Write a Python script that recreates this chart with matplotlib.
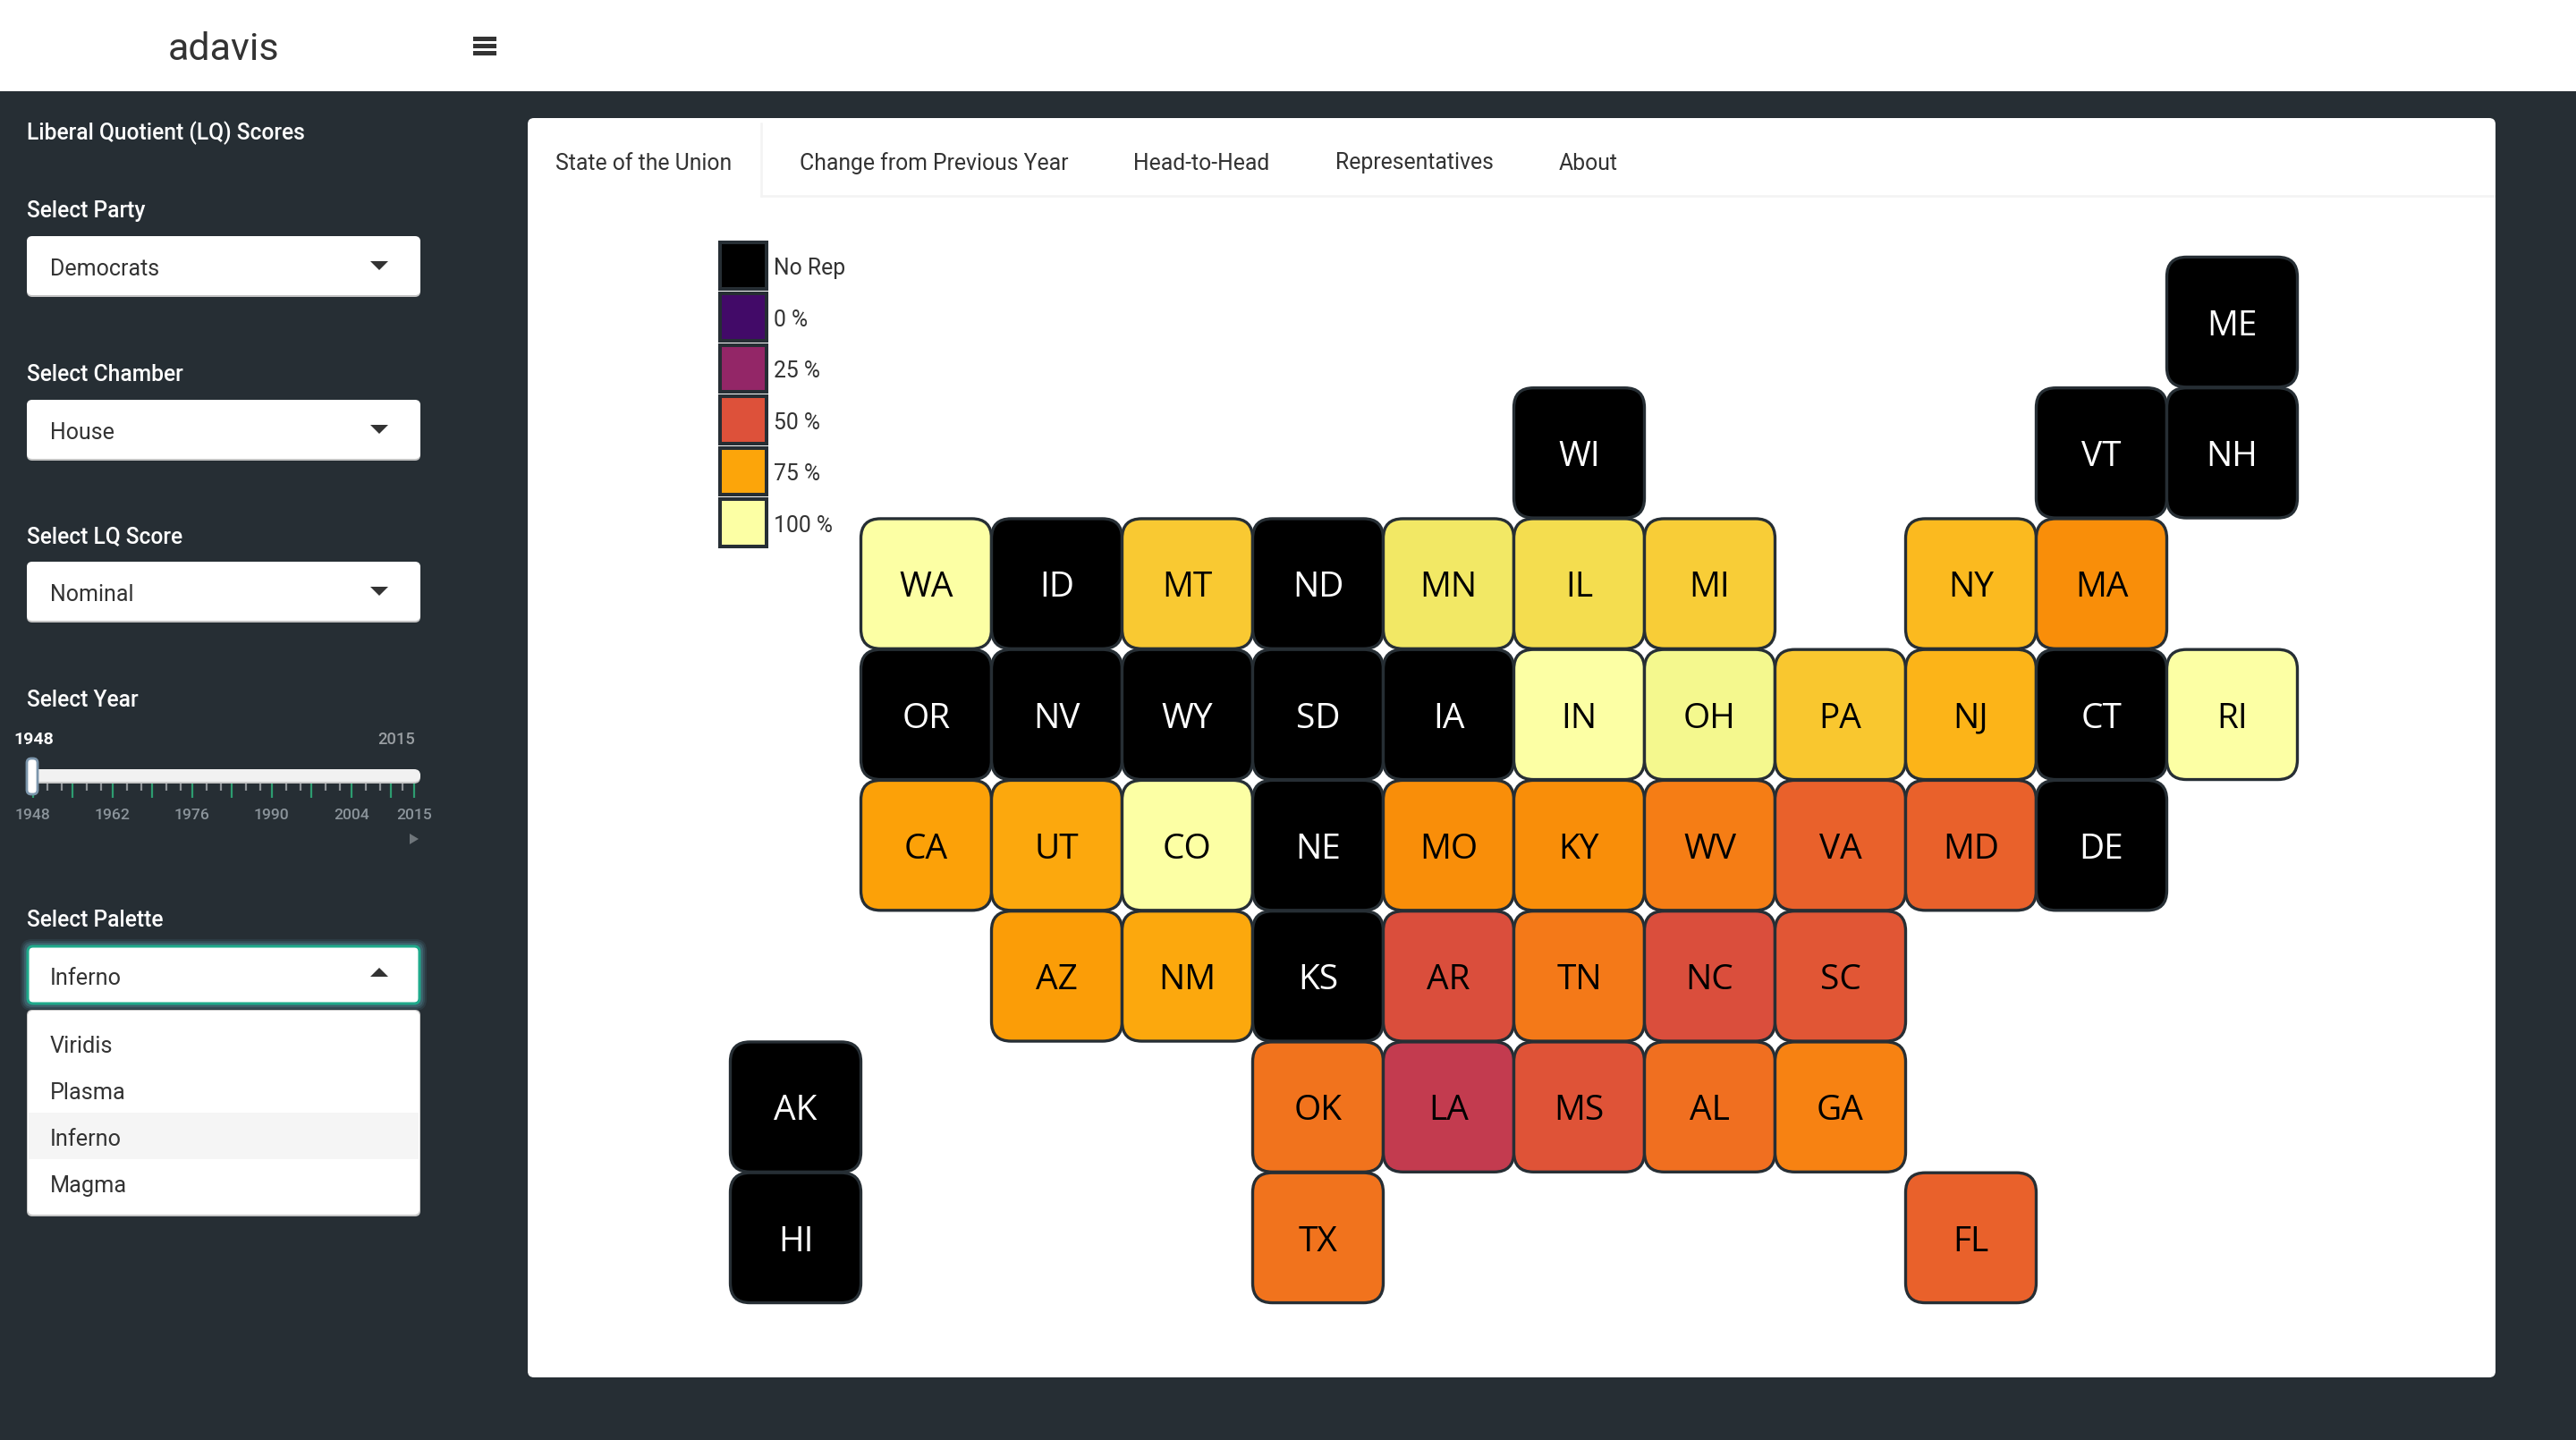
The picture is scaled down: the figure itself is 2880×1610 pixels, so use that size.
import numpy as np
import matplotlib
matplotlib.use('Agg')
import matplotlib.pyplot as plt
from matplotlib.patches import FancyBboxPatch, Rectangle, Polygon

# State grid map values (LQ score in percent, nan = no rep)
states = ['ME', 'WI', 'VT', 'NH',
          'WA', 'ID', 'MT', 'ND', 'MN', 'IL', 'MI', 'NY', 'MA',
          'OR', 'NV', 'WY', 'SD', 'IA', 'IN', 'OH', 'PA', 'NJ', 'CT', 'RI',
          'CA', 'UT', 'CO', 'NE', 'MO', 'KY', 'WV', 'VA', 'MD', 'DE',
          'AZ', 'NM', 'KS', 'AR', 'TN', 'NC', 'SC',
          'AK', 'OK', 'LA', 'MS', 'AL', 'GA',
          'HI', 'TX', 'FL']
state_cols = [11, 6, 10, 11,
              1, 2, 3, 4, 5, 6, 7, 9, 10,
              1, 2, 3, 4, 5, 6, 7, 8, 9, 10, 11,
              1, 2, 3, 4, 5, 6, 7, 8, 9, 10,
              2, 3, 4, 5, 6, 7, 8,
              0, 4, 5, 6, 7, 8,
              0, 4, 9]
state_rows = [0, 1, 1, 1,
              2, 2, 2, 2, 2, 2, 2, 2, 2,
              3, 3, 3, 3, 3, 3, 3, 3, 3, 3, 3,
              4, 4, 4, 4, 4, 4, 4, 4, 4, 4,
              5, 5, 5, 5, 5, 5, 5,
              6, 6, 6, 6, 6, 6,
              7, 7, 7]
nan = float('nan')
scores = [nan, nan, nan, nan,
          100, nan, 84, nan, 92, 89, 85, 80, 69,
          nan, nan, nan, nan, nan, 100, 97, 83.5, 79, nan, 100,
          74, 76, 100, nan, 69, 69, 64, 56, 56, nan,
          73, 76, nan, 49, 63, 49, 52,
          nan, 61, 40, 51, 60, 65.5,
          nan, 61, 56]

legend_labels = ['No Rep', '0 %', '25 %', '50 %', '75 %', '100 %']
legend_colors = ['#000000', '#420A68', '#932667', '#DD513A', '#FCA50A', '#FCFFA4']

tab_labels = ['State of the Union', 'Change from Previous Year', 'Head-to-Head', 'Representatives', 'About']
tab_left = [621, 894, 1267, 1493, 1743]

major_years = [1948, 1955, 1962, 1969, 1976, 1983, 1990, 1997, 2004, 2011, 2015]
minor_years = [1950.5, 1953, 1957.5, 1960, 1964.5, 1967, 1971.5, 1974, 1978.5, 1981,
               1985.5, 1988, 1992.5, 1995, 1999.5, 2002, 2006.5, 2009, 2013]
year_labels = [1948, 1962, 1976, 1990, 2004, 2015]

palette_options = ['Viridis', 'Plasma', 'Inferno', 'Magma']

DARK = '#262e34'
TEXT = '#333333'
SANS = 'Roboto'

fig = plt.figure(figsize=(28.8, 16.1), dpi=100, facecolor=DARK)

# page axes in pixels
ax = fig.add_axes([0, 0, 1, 1])
ax.set_xlim(0, 2880)
ax.set_ylim(1610, 0)
ax.axis('off')


def box(x0, y0, x1, y1, face='white', edge='none', lw=0, r=6, alpha=1, z=2):
    p = FancyBboxPatch((x0, y0), x1 - x0, y1 - y0, boxstyle=f'round,pad=0,rounding_size={r}',
                       facecolor=face, edgecolor=edge, linewidth=lw, alpha=alpha, zorder=z)
    ax.add_patch(p)


def label(x, y, s, size=18, color=TEXT, weight='normal', ha='left', z=5):
    ax.text(x, y, s, fontsize=size, color=color, fontweight=weight, family=SANS,
            ha=ha, va='center_baseline', zorder=z)


def caret(x, y, up=False):
    if up:
        pts = [(x - 10, y + 5), (x + 10, y + 5), (x, y - 5)]
    else:
        pts = [(x - 10, y - 5), (x + 10, y - 5), (x, y + 5)]
    ax.add_patch(Polygon(pts, closed=True, facecolor=TEXT, edgecolor='none', zorder=5))


# header
ax.add_patch(Rectangle((0, 0), 2880, 102, facecolor='white', edgecolor='none', zorder=1))
label(250, 51, 'adavis', size=31, ha='center')
for y in [44, 52, 60]:
    ax.add_patch(Rectangle((529, y - 2.5), 26, 5, facecolor=TEXT, edgecolor='none', zorder=3))

# sidebar
label(30, 146, 'Liberal Quotient (LQ) Scores', size=17.7, color='white', weight='medium')
selects = [('Select Party', 'Democrats', 234, 264), ('Select Chamber', 'House', 416, 447),
           ('Select LQ Score', 'Nominal', 598, 628)]
for title, value, ty, by in selects:
    label(30, ty, title, size=17.7, color='white', weight='medium')
    box(30, by + 1, 470, by + 68, face='#c4c4c4')
    box(30, by, 470, by + 66, face='white')
    label(56, by + 34, value, size=18)
    caret(424, by + 33)

# year slider
label(30, 780, 'Select Year', size=17.7, color='white', weight='medium')
label(15, 825, '1948', size=14, color='white', weight='bold')
label(464, 825, '2015', size=13.2, color='#9a9fa3', weight='medium', ha='right')
box(30, 861, 470, 876, face='#c8c8c8', r=7)
box(30, 860, 470, 874, face='#f1f1f1', r=7)


def year_x(yr):
    return 36.7 + (yr - 1948) * 6.36


for yr in minor_years:
    ax.plot([year_x(yr)] * 2, [876, 884], color='#8d9296', lw=1.6, zorder=3, solid_capstyle='butt')
for yr in major_years:
    ax.plot([year_x(yr)] * 2, [876, 892], color='#2d9c70', lw=1.6, zorder=3, solid_capstyle='butt')
for yr in year_labels:
    label(year_x(yr), 910, str(yr), size=12.6, color='#8b949b', weight='medium', ha='center')
box(30, 848, 42, 888, face='white', edge='#7d97ad', lw=2, r=5, z=4)
ax.add_patch(Polygon([(458, 932), (468, 938), (458, 944)], closed=True, facecolor='#6f767b',
                     edgecolor='none', zorder=3))

# palette select, open
label(30, 1026, 'Select Palette', size=17.7, color='white', weight='medium')
for grow, a in [(7, 0.10), (5, 0.14), (3, 0.2)]:
    box(30 - grow, 1057 - grow, 470 + grow, 1123 + grow, face='#66b6c8', alpha=a, r=6 + grow)
box(31, 1058, 469, 1122, face='white', edge='#1fa98b', lw=2.2)
label(56, 1091, 'Inferno', size=18.2)
caret(424, 1087, up=True)
box(30, 1129, 470, 1360, face='#c8c8c8')
box(31, 1130, 469, 1358, face='white')
ax.add_patch(Rectangle((32, 1244), 436, 52, facecolor='#f5f5f5', edgecolor='none', zorder=3))
for i, opt in enumerate(palette_options):
    label(56, 1167 + i * 52.3, opt, size=18.2)

# main card
box(590, 132, 2790, 1540, face='white', r=7)
ax.plot([851, 2788], [219, 219], color='#f3f3f3', lw=1.8, zorder=3)
ax.plot([851, 851], [138, 219], color='#f3f3f3', lw=1.8, zorder=3)
for s, x in zip(tab_labels, tab_left):
    label(x, 180, s, size=17.8)

# legend
for i, (s, c) in enumerate(zip(legend_labels, legend_colors)):
    y0 = 269 + i * 57.4
    ax.add_patch(Rectangle((805, y0 + 2), 52, 52.5, facecolor=c, edgecolor=DARK, linewidth=2.9, zorder=4))
    label(865, y0 + 29, s, size=17.8)

# tile map axes, one unit per tile
ax_map = fig.add_axes([816.5 / 2880, 1 - 1457 / 1610, 1752 / 2880, 1170 / 1610])
ax_map.set_xlim(-0.5, 11.5)
ax_map.set_ylim(7.5, -0.5)
ax_map.axis('off')
ax_map.patch.set_alpha(0)
cmap = plt.get_cmap('inferno')
for st, c, r, v in zip(states, state_cols, state_rows, scores):
    if np.isnan(v):
        face, fg = '#000000', 'white'
    else:
        # legend runs 0-100 % over the upper 80 % of inferno
        face, fg = cmap(0.2 + 0.8 * v / 100), 'black'
    ax_map.add_patch(FancyBboxPatch((c - 0.5, r - 0.497), 1.0, 0.994,
                                    boxstyle='round,pad=0,rounding_size=0.15',
                                    facecolor=face, edgecolor=DARK, linewidth=2.4,
                                    clip_on=False))
    ax_map.text(c, r + 0.002, st, color=fg, fontsize=28, family='Open Sans', ha='center',
                va='center_baseline', zorder=5)

fig.savefig('out.png', dpi=100, facecolor=DARK)
